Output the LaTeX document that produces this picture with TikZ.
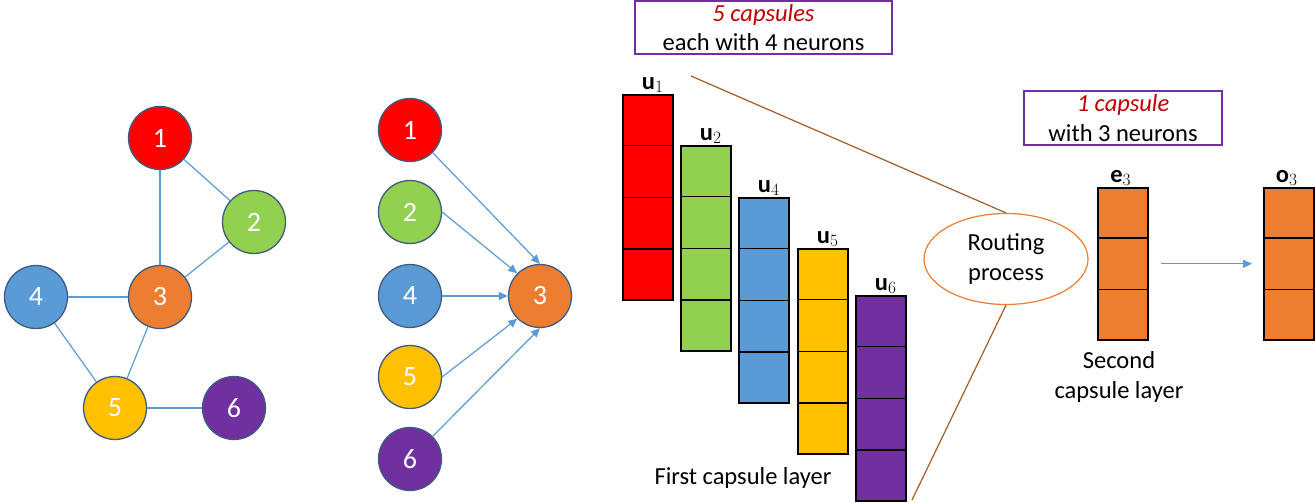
\documentclass[tikz,border=0pt]{standalone}
\usepackage{fontspec}
\setmainfont{Carlito}
\usetikzlibrary{shapes,positioning,fit,calc,arrows.meta}
\definecolor{cred}{RGB}{255,0,0}
\definecolor{cgreen}{RGB}{146,208,80}
\definecolor{cblue}{RGB}{91,155,213}
\definecolor{corange}{RGB}{237,125,49}
\definecolor{cyellow}{RGB}{255,192,0}
\definecolor{cpurple}{RGB}{112,48,160}
\definecolor{cborder}{RGB}{62,92,128}
\definecolor{cbrown}{RGB}{165,90,40}
\definecolor{cdarkred}{RGB}{192,0,0}

\begin{document}
\begin{tikzpicture}[x=1pt, y=-1pt,
    font=\fontsize{24.5}{29.5}\selectfont,
    vertex/.style={circle, draw=cborder, line width=1.3pt, minimum size=63pt,
        inner sep=0pt, text=white, font=\fontsize{28}{30}\selectfont},
    link/.style={cblue, line width=1.2pt},
    flow/.style={link, -{Triangle[length=9pt,width=8pt]}},
    capcol/.style={draw=black, line width=1.5pt, minimum width=50pt,
        inner sep=0pt, anchor=north west},
    cellsep/.style={black, line width=1.5pt},
    veclabel/.style={anchor=south, inner sep=1pt},
    infobox/.style={draw=cpurple, line width=1.2pt, align=center, inner sep=0pt}]
        % Canvas of the reference size
        \useasboundingbox (0,0) rectangle (1315,503);

        % Undirected graph
        \begin{scope}
            \node[vertex, fill=cred]    (g1) at (160,138) {1};
            \node[vertex, fill=cgreen]  (g2) at (254,222) {2};
            \node[vertex, fill=corange] (g3) at (160,297) {3};
            \node[vertex, fill=cblue]   (g4) at (36,297)  {4};
            \node[vertex, fill=cyellow] (g5) at (115,408) {5};
            \node[vertex, fill=cpurple] (g6) at (234,408) {6};
        \end{scope}

        \begin{scope}[link]
            \draw (g1) -- (g2);
            \draw (g1) -- (g3);
            \draw (g2) -- (g3);
            \draw (g4) -- (g3);
            \draw (g4) -- (g5);
            \draw (g3) -- (g5);
            \draw (g5) -- (g6);
        \end{scope}

        % Neighbours of node 3
        \begin{scope}
            \node[vertex, fill=cred]    (m1) at (410,130) {1};
            \node[vertex, fill=cgreen]  (m2) at (410,212) {2};
            \node[vertex, fill=cblue]   (m4) at (410,296) {4};
            \node[vertex, fill=cyellow] (m5) at (410,377) {5};
            \node[vertex, fill=cpurple] (m6) at (410,459) {6};
            \node[vertex, fill=corange] (m3) at (540,296) {3};
        \end{scope}

        \begin{scope}[flow]
            \draw (m1.-45) -- (m3.north);
            \draw (m2.east) -- (m3.135);
            \draw (m4.east) -- (m3.west);
            \draw (m5.east) -- (m3.-135);
            \draw (m6.45) -- (m3.south);
        \end{scope}

        % First capsule layer
        \foreach \name/\col/\x/\y/\sub in {u1/cred/622/94/1, u2/cgreen/680/145/2,
                u4/cblue/738/197/4, u5/cyellow/797/248/5, u6/cpurple/855/295/6} {
            \node[capcol, fill=\col, minimum height=205pt] (\name) at (\x,\y) {};
            \foreach \k in {1,2,3}
                \draw[cellsep] ($(\name.north west)!\k/4!(\name.south west)$)
                    -- ($(\name.north east)!\k/4!(\name.south east)$);
            \node[veclabel] at ([xshift=5pt]\name.north) {\textbf{u}$_{\sub}$};
        }
        \node (firstlab) at (743,478) {First capsule layer};

        % Second capsule layer
        \foreach \name/\x/\sym in {e3/1097/e, o3/1263/o} {
            \node[capcol, fill=corange, minimum height=152pt] (\name) at (\x,187) {};
            \foreach \k in {1,2}
                \draw[cellsep] ($(\name.north west)!\k/3!(\name.south west)$)
                    -- ($(\name.north east)!\k/3!(\name.south east)$);
            \node[veclabel] at ([xshift=-2pt]\name.north) {\textbf{\sym}$_3$};
        }
        \node[align=center] (secondlab) at (1119,377) {Second\\capsule layer};
        \draw[flow, shorten <=12pt, shorten >=11pt] (e3.east) -- (o3.west);

        % Routing
        \node[ellipse, draw=corange, line width=1.2pt, minimum width=164pt,
            minimum height=91pt, align=center, inner sep=0pt] (route) at (1006,259)
            {Routing\\process};
        \coordinate (fantop) at (691,76);
        \coordinate (fanbot) at (912,500);
        \begin{scope}[cbrown, line width=1.2pt]
            \draw (fantop) -- (route.north);
            \draw (route.south) -- (fanbot);
        \end{scope}

        % Notes
        \node[infobox, minimum width=257pt, minimum height=53pt] (note1) at (763.5,27.5)
            {\textit{\color{cdarkred}5 capsules}\\each with 4 neurons};
        \node[infobox, minimum width=198pt, minimum height=54pt] (note2) at (1123,118)
            {\textit{\color{cdarkred}1 capsule}\\with 3 neurons};
\end{tikzpicture}
\end{document}
